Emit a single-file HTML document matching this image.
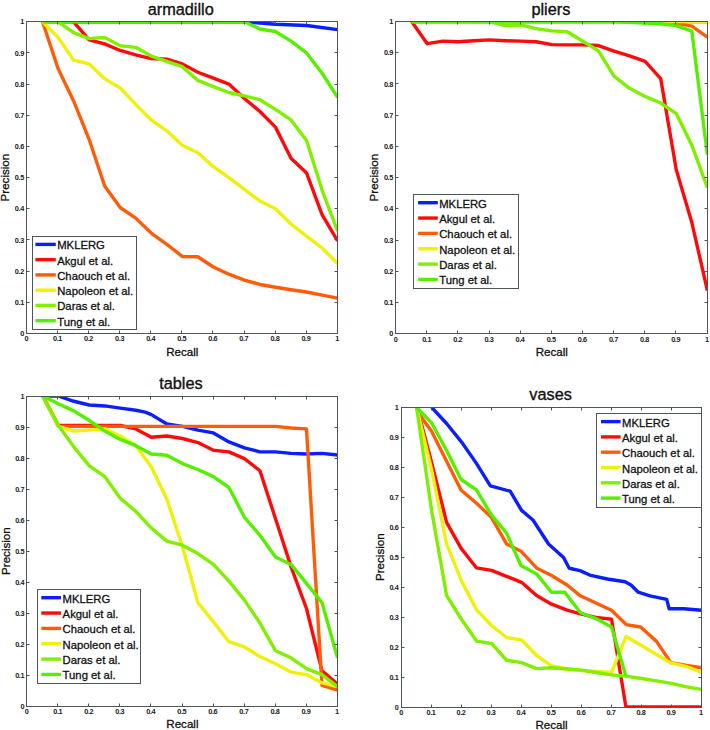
<!DOCTYPE html><html><head><meta charset="utf-8"><style>html,body{margin:0;padding:0;background:#fff;}svg{display:block;}text{font-family:"Liberation Sans", sans-serif;}</style></head><body>
<svg width="710" height="730" viewBox="0 0 710 730">
<rect width="710" height="730" fill="#fff"/>
<clipPath id="carmadillo"><rect x="27" y="21.8" width="310.6" height="311.6"/></clipPath><g clip-path="url(#carmadillo)">
<polyline points="42.53,21.8 244.42,21.8 275.48,24.29 306.54,25.54 337.6,29.59" fill="none" stroke="#0a1eff" stroke-width="3.4" stroke-linejoin="round" stroke-linecap="butt"/>
<polyline points="73.59,21.8 89.12,39.87 104.65,43.92 120.18,50.47 135.71,54.83 151.24,58.57 166.77,59.19 182.3,63.87 197.83,72.28 213.36,78.2 228.89,84.12 244.42,98.45 259.95,111.54 275.48,127.12 291.01,158.28 306.54,172.93 322.07,214.68 337.6,240.85" fill="none" stroke="#ff0a0a" stroke-width="3.4" stroke-linejoin="round" stroke-linecap="butt"/>
<polyline points="42.53,21.8 58.06,68.54 73.59,100.95 89.12,139.27 104.65,186.01 120.18,207.51 135.71,218.11 151.24,233.06 166.77,244.28 182.3,256.43 197.83,256.75 213.36,267.03 228.89,274.2 244.42,280.12 259.95,284.48 275.48,287.28 291.01,289.78 306.54,291.96 322.07,295.07 337.6,298.19" fill="none" stroke="#ff5c0a" stroke-width="3.4" stroke-linejoin="round" stroke-linecap="butt"/>
<polyline points="42.53,21.8 58.06,37.38 73.59,60.13 89.12,63.87 104.65,78.82 120.18,87.86 135.71,104.37 151.24,119.95 166.77,130.86 182.3,145.19 197.83,152.67 213.36,166.69 228.89,177.6 244.42,189.44 259.95,200.97 275.48,208.76 291.01,224.03 306.54,236.18 322.07,248.02 337.6,263.6" fill="none" stroke="#f0f00a" stroke-width="3.4" stroke-linejoin="round" stroke-linecap="butt"/>
<polyline points="42.53,21.8 58.06,21.8 73.59,32.71 89.12,38.63 104.65,37.38 120.18,45.79 135.71,47.35 151.24,56.08 166.77,61.37 182.3,66.67 197.83,80.38 213.36,86.61 228.89,92.53 244.42,95.96 259.95,99.7 275.48,109.36 291.01,119.95 306.54,140.52 322.07,190.06 337.6,231.2" fill="none" stroke="#80f000" stroke-width="3.4" stroke-linejoin="round" stroke-linecap="butt"/>
<polyline points="42.53,21.8 244.42,21.8 259.95,28.97 275.48,31.46 291.01,41.12 306.54,52.96 322.07,73.21 337.6,97.21" fill="none" stroke="#55f000" stroke-width="3.4" stroke-linejoin="round" stroke-linecap="butt"/>
</g>
<rect x="26.5" y="21.5" width="311" height="312" fill="none" stroke="#4c5656" stroke-width="1"/>
<path d="M57.5 333.5v-3M57.5 21.5v3M26.5 302.5h3M337.5 302.5h-3M88.5 333.5v-3M88.5 21.5v3M26.5 271.5h3M337.5 271.5h-3M119.5 333.5v-3M119.5 21.5v3M26.5 239.5h3M337.5 239.5h-3M150.5 333.5v-3M150.5 21.5v3M26.5 208.5h3M337.5 208.5h-3M181.5 333.5v-3M181.5 21.5v3M26.5 177.5h3M337.5 177.5h-3M212.5 333.5v-3M212.5 21.5v3M26.5 146.5h3M337.5 146.5h-3M244.5 333.5v-3M244.5 21.5v3M26.5 115.5h3M337.5 115.5h-3M275.5 333.5v-3M275.5 21.5v3M26.5 84.5h3M337.5 84.5h-3M306.5 333.5v-3M306.5 21.5v3M26.5 52.5h3M337.5 52.5h-3" stroke="#4c5656" stroke-width="1" fill="none"/>
<text x="26.4" y="341.3" font-size="7.3" font-weight="bold" fill="#222" text-anchor="middle" letter-spacing="-0.4">0</text>
<text x="23.8" y="336" font-size="7.3" font-weight="bold" fill="#222" text-anchor="end" letter-spacing="-0.4">0</text>
<text x="57.46" y="341.3" font-size="7.3" font-weight="bold" fill="#222" text-anchor="middle" letter-spacing="-0.4">0.1</text>
<text x="23.8" y="304.84" font-size="7.3" font-weight="bold" fill="#222" text-anchor="end" letter-spacing="-0.4">0.1</text>
<text x="88.52" y="341.3" font-size="7.3" font-weight="bold" fill="#222" text-anchor="middle" letter-spacing="-0.4">0.2</text>
<text x="23.8" y="273.68" font-size="7.3" font-weight="bold" fill="#222" text-anchor="end" letter-spacing="-0.4">0.2</text>
<text x="119.58" y="341.3" font-size="7.3" font-weight="bold" fill="#222" text-anchor="middle" letter-spacing="-0.4">0.3</text>
<text x="23.8" y="242.52" font-size="7.3" font-weight="bold" fill="#222" text-anchor="end" letter-spacing="-0.4">0.3</text>
<text x="150.64" y="341.3" font-size="7.3" font-weight="bold" fill="#222" text-anchor="middle" letter-spacing="-0.4">0.4</text>
<text x="23.8" y="211.36" font-size="7.3" font-weight="bold" fill="#222" text-anchor="end" letter-spacing="-0.4">0.4</text>
<text x="181.7" y="341.3" font-size="7.3" font-weight="bold" fill="#222" text-anchor="middle" letter-spacing="-0.4">0.5</text>
<text x="23.8" y="180.2" font-size="7.3" font-weight="bold" fill="#222" text-anchor="end" letter-spacing="-0.4">0.5</text>
<text x="212.76" y="341.3" font-size="7.3" font-weight="bold" fill="#222" text-anchor="middle" letter-spacing="-0.4">0.6</text>
<text x="23.8" y="149.04" font-size="7.3" font-weight="bold" fill="#222" text-anchor="end" letter-spacing="-0.4">0.6</text>
<text x="243.82" y="341.3" font-size="7.3" font-weight="bold" fill="#222" text-anchor="middle" letter-spacing="-0.4">0.7</text>
<text x="23.8" y="117.88" font-size="7.3" font-weight="bold" fill="#222" text-anchor="end" letter-spacing="-0.4">0.7</text>
<text x="274.88" y="341.3" font-size="7.3" font-weight="bold" fill="#222" text-anchor="middle" letter-spacing="-0.4">0.8</text>
<text x="23.8" y="86.72" font-size="7.3" font-weight="bold" fill="#222" text-anchor="end" letter-spacing="-0.4">0.8</text>
<text x="305.94" y="341.3" font-size="7.3" font-weight="bold" fill="#222" text-anchor="middle" letter-spacing="-0.4">0.9</text>
<text x="23.8" y="55.56" font-size="7.3" font-weight="bold" fill="#222" text-anchor="end" letter-spacing="-0.4">0.9</text>
<text x="337" y="341.3" font-size="7.3" font-weight="bold" fill="#222" text-anchor="middle" letter-spacing="-0.4">1</text>
<text x="23.8" y="24.4" font-size="7.3" font-weight="bold" fill="#222" text-anchor="end" letter-spacing="-0.4">1</text>
<text x="180.7" y="15.3" font-size="16.3" fill="#111" stroke="#111" stroke-width="0.35" text-anchor="middle">armadillo</text>
<text x="182.3" y="355.6" font-size="11.6" fill="#111" stroke="#111" stroke-width="0.3" text-anchor="middle">Recall</text>
<text transform="translate(9 177.6) rotate(-90)" font-size="11.6" fill="#111" stroke="#111" stroke-width="0.3" text-anchor="middle">Precision</text>
<rect x="32.5" y="236.5" width="104" height="93" fill="#fff" stroke="#4c5656" stroke-width="1"/>
<line x1="35.4" y1="244.4" x2="55.8" y2="244.4" stroke="#0a1eff" stroke-width="3.4"/>
<text x="57.2" y="249.4" font-size="11.3" fill="#111" stroke="#111" stroke-width="0.3">MKLERG</text>
<line x1="35.4" y1="259.65" x2="55.8" y2="259.65" stroke="#ff0a0a" stroke-width="3.4"/>
<text x="57.2" y="264.65" font-size="11.3" fill="#111" stroke="#111" stroke-width="0.3">Akgul et al.</text>
<line x1="35.4" y1="274.9" x2="55.8" y2="274.9" stroke="#ff5c0a" stroke-width="3.4"/>
<text x="57.2" y="279.9" font-size="11.3" fill="#111" stroke="#111" stroke-width="0.3">Chaouch et al.</text>
<line x1="35.4" y1="290.15" x2="55.8" y2="290.15" stroke="#f0f00a" stroke-width="3.4"/>
<text x="57.2" y="295.15" font-size="11.3" fill="#111" stroke="#111" stroke-width="0.3">Napoleon et al.</text>
<line x1="35.4" y1="305.4" x2="55.8" y2="305.4" stroke="#80f000" stroke-width="3.4"/>
<text x="57.2" y="310.4" font-size="11.3" fill="#111" stroke="#111" stroke-width="0.3">Daras et al.</text>
<line x1="35.4" y1="320.65" x2="55.8" y2="320.65" stroke="#55f000" stroke-width="3.4"/>
<text x="57.2" y="325.65" font-size="11.3" fill="#111" stroke="#111" stroke-width="0.3">Tung et al.</text>
<clipPath id="cpliers"><rect x="396.1" y="21.5" width="311.3" height="312.2"/></clipPath><g clip-path="url(#cpliers)">
<polyline points="411.67,21.5 707.4,21.5" fill="none" stroke="#0a1eff" stroke-width="3.4" stroke-linejoin="round" stroke-linecap="butt"/>
<polyline points="411.67,21.5 427.23,43.67 442.8,41.17 458.36,41.79 473.93,40.7 489.49,39.92 505.06,40.7 520.62,41.17 536.18,41.79 551.75,44.6 567.32,44.91 582.88,44.91 598.44,45.54 614.01,51.16 629.58,55.84 645.14,61.46 660.7,78.63 676.27,169.79 691.84,222.56 707.4,290.62" fill="none" stroke="#ff0a0a" stroke-width="3.4" stroke-linejoin="round" stroke-linecap="butt"/>
<polyline points="411.67,21.5 660.7,21.5 676.27,23.06 691.84,26.18 707.4,37.11" fill="none" stroke="#ff5c0a" stroke-width="3.4" stroke-linejoin="round" stroke-linecap="butt"/>
<polyline points="411.67,21.5 707.4,21.5" fill="none" stroke="#f0f00a" stroke-width="3.4" stroke-linejoin="round" stroke-linecap="butt"/>
<polyline points="411.67,21.5 489.49,21.5 505.06,25.56 520.62,24.93 536.18,28.68 551.75,30.87 567.32,31.8 582.88,41.17 598.44,50.85 614.01,76.13 629.58,88.31 645.14,96.43 660.7,102.98 676.27,113.6 691.84,145.13 707.4,187.59" fill="none" stroke="#80f000" stroke-width="3.4" stroke-linejoin="round" stroke-linecap="butt"/>
<polyline points="411.67,21.5 614.01,21.5 645.14,23.06 660.7,23.69 676.27,25.56 691.84,31.18 707.4,154.81" fill="none" stroke="#55f000" stroke-width="3.4" stroke-linejoin="round" stroke-linecap="butt"/>
</g>
<rect x="395.5" y="21.5" width="312" height="312" fill="none" stroke="#4c5656" stroke-width="1"/>
<path d="M426.5 333.5v-3M426.5 21.5v3M395.5 302.5h3M707.5 302.5h-3M457.5 333.5v-3M457.5 21.5v3M395.5 271.5h3M707.5 271.5h-3M489.5 333.5v-3M489.5 21.5v3M395.5 240.5h3M707.5 240.5h-3M520.5 333.5v-3M520.5 21.5v3M395.5 208.5h3M707.5 208.5h-3M551.5 333.5v-3M551.5 21.5v3M395.5 177.5h3M707.5 177.5h-3M582.5 333.5v-3M582.5 21.5v3M395.5 146.5h3M707.5 146.5h-3M613.5 333.5v-3M613.5 21.5v3M395.5 115.5h3M707.5 115.5h-3M644.5 333.5v-3M644.5 21.5v3M395.5 83.5h3M707.5 83.5h-3M675.5 333.5v-3M675.5 21.5v3M395.5 52.5h3M707.5 52.5h-3" stroke="#4c5656" stroke-width="1" fill="none"/>
<text x="395.5" y="341.6" font-size="7.3" font-weight="bold" fill="#222" text-anchor="middle" letter-spacing="-0.4">0</text>
<text x="392.9" y="336.3" font-size="7.3" font-weight="bold" fill="#222" text-anchor="end" letter-spacing="-0.4">0</text>
<text x="426.63" y="341.6" font-size="7.3" font-weight="bold" fill="#222" text-anchor="middle" letter-spacing="-0.4">0.1</text>
<text x="392.9" y="305.08" font-size="7.3" font-weight="bold" fill="#222" text-anchor="end" letter-spacing="-0.4">0.1</text>
<text x="457.76" y="341.6" font-size="7.3" font-weight="bold" fill="#222" text-anchor="middle" letter-spacing="-0.4">0.2</text>
<text x="392.9" y="273.86" font-size="7.3" font-weight="bold" fill="#222" text-anchor="end" letter-spacing="-0.4">0.2</text>
<text x="488.89" y="341.6" font-size="7.3" font-weight="bold" fill="#222" text-anchor="middle" letter-spacing="-0.4">0.3</text>
<text x="392.9" y="242.64" font-size="7.3" font-weight="bold" fill="#222" text-anchor="end" letter-spacing="-0.4">0.3</text>
<text x="520.02" y="341.6" font-size="7.3" font-weight="bold" fill="#222" text-anchor="middle" letter-spacing="-0.4">0.4</text>
<text x="392.9" y="211.42" font-size="7.3" font-weight="bold" fill="#222" text-anchor="end" letter-spacing="-0.4">0.4</text>
<text x="551.15" y="341.6" font-size="7.3" font-weight="bold" fill="#222" text-anchor="middle" letter-spacing="-0.4">0.5</text>
<text x="392.9" y="180.2" font-size="7.3" font-weight="bold" fill="#222" text-anchor="end" letter-spacing="-0.4">0.5</text>
<text x="582.28" y="341.6" font-size="7.3" font-weight="bold" fill="#222" text-anchor="middle" letter-spacing="-0.4">0.6</text>
<text x="392.9" y="148.98" font-size="7.3" font-weight="bold" fill="#222" text-anchor="end" letter-spacing="-0.4">0.6</text>
<text x="613.41" y="341.6" font-size="7.3" font-weight="bold" fill="#222" text-anchor="middle" letter-spacing="-0.4">0.7</text>
<text x="392.9" y="117.76" font-size="7.3" font-weight="bold" fill="#222" text-anchor="end" letter-spacing="-0.4">0.7</text>
<text x="644.54" y="341.6" font-size="7.3" font-weight="bold" fill="#222" text-anchor="middle" letter-spacing="-0.4">0.8</text>
<text x="392.9" y="86.54" font-size="7.3" font-weight="bold" fill="#222" text-anchor="end" letter-spacing="-0.4">0.8</text>
<text x="675.67" y="341.6" font-size="7.3" font-weight="bold" fill="#222" text-anchor="middle" letter-spacing="-0.4">0.9</text>
<text x="392.9" y="55.32" font-size="7.3" font-weight="bold" fill="#222" text-anchor="end" letter-spacing="-0.4">0.9</text>
<text x="706.8" y="341.6" font-size="7.3" font-weight="bold" fill="#222" text-anchor="middle" letter-spacing="-0.4">1</text>
<text x="392.9" y="24.1" font-size="7.3" font-weight="bold" fill="#222" text-anchor="end" letter-spacing="-0.4">1</text>
<text x="550.9" y="15" font-size="16.3" fill="#111" stroke="#111" stroke-width="0.35" text-anchor="middle">pliers</text>
<text x="551.75" y="355.9" font-size="11.6" fill="#111" stroke="#111" stroke-width="0.3" text-anchor="middle">Recall</text>
<text transform="translate(378.1 177.6) rotate(-90)" font-size="11.6" fill="#111" stroke="#111" stroke-width="0.3" text-anchor="middle">Precision</text>
<rect x="413.5" y="194.5" width="105" height="94" fill="#fff" stroke="#4c5656" stroke-width="1"/>
<line x1="418.1" y1="202.7" x2="437.8" y2="202.7" stroke="#0a1eff" stroke-width="3.4"/>
<text x="439.2" y="207.7" font-size="11.3" fill="#111" stroke="#111" stroke-width="0.3">MKLERG</text>
<line x1="418.1" y1="218.05" x2="437.8" y2="218.05" stroke="#ff0a0a" stroke-width="3.4"/>
<text x="439.2" y="223.05" font-size="11.3" fill="#111" stroke="#111" stroke-width="0.3">Akgul et al.</text>
<line x1="418.1" y1="233.4" x2="437.8" y2="233.4" stroke="#ff5c0a" stroke-width="3.4"/>
<text x="439.2" y="238.4" font-size="11.3" fill="#111" stroke="#111" stroke-width="0.3">Chaouch et al.</text>
<line x1="418.1" y1="248.75" x2="437.8" y2="248.75" stroke="#f0f00a" stroke-width="3.4"/>
<text x="439.2" y="253.75" font-size="11.3" fill="#111" stroke="#111" stroke-width="0.3">Napoleon et al.</text>
<line x1="418.1" y1="264.1" x2="437.8" y2="264.1" stroke="#80f000" stroke-width="3.4"/>
<text x="439.2" y="269.1" font-size="11.3" fill="#111" stroke="#111" stroke-width="0.3">Daras et al.</text>
<line x1="418.1" y1="279.45" x2="437.8" y2="279.45" stroke="#55f000" stroke-width="3.4"/>
<text x="439.2" y="284.45" font-size="11.3" fill="#111" stroke="#111" stroke-width="0.3">Tung et al.</text>
<clipPath id="ctables"><rect x="27.3" y="396" width="310.2" height="310.2"/></clipPath><g clip-path="url(#ctables)">
<polyline points="42.81,396 58.32,396 73.83,401.27 89.34,405 104.85,405.93 120.36,408.1 135.87,410.27 145.18,412.13 151.38,414.61 166.89,423.92 182.4,426.4 197.91,430.12 213.42,432.91 228.93,441.91 244.44,447.8 259.95,451.84 275.46,451.84 290.97,453.39 306.48,454.01 321.99,453.39 337.5,454.94" fill="none" stroke="#0a1eff" stroke-width="3.4" stroke-linejoin="round" stroke-linecap="butt"/>
<polyline points="42.81,396 58.32,425.47 120.36,425.47 135.87,428.88 151.38,437.26 166.89,436.02 182.4,438.5 197.91,442.53 213.42,450.29 228.93,451.84 244.44,458.66 259.95,470.76 275.46,518.53 290.97,566.61 306.48,608.49 321.99,670.84 337.5,684.18" fill="none" stroke="#ff0a0a" stroke-width="3.4" stroke-linejoin="round" stroke-linecap="butt"/>
<polyline points="42.81,396 58.32,426.4 275.46,426.4 290.97,427.95 306.48,428.88 321.99,685.42 337.5,690.07" fill="none" stroke="#ff5c0a" stroke-width="3.4" stroke-linejoin="round" stroke-linecap="butt"/>
<polyline points="42.81,396 58.32,426.4 73.83,431.05 89.34,430.12 104.85,428.88 120.36,436.02 135.87,445.63 151.38,467.04 166.89,499.3 182.4,546.45 197.91,602.59 213.42,621.83 228.93,641.68 244.44,646.95 259.95,656.57 275.46,663.7 290.97,672.08 306.48,674.56 321.99,682.94 337.5,686.66" fill="none" stroke="#f0f00a" stroke-width="3.4" stroke-linejoin="round" stroke-linecap="butt"/>
<polyline points="42.81,396 58.32,425.16 73.83,446.87 89.34,465.8 104.85,476.65 120.36,498.37 135.87,511.39 151.38,528.15 166.89,541.17 182.4,545.21 197.91,553.58 213.42,564.44 228.93,581.19 244.44,600.11 259.95,623.07 275.46,650.67 290.97,657.81 306.48,668.67 321.99,674.56 337.5,686.66" fill="none" stroke="#80f000" stroke-width="3.4" stroke-linejoin="round" stroke-linecap="butt"/>
<polyline points="42.81,396 58.32,403.75 73.83,410.89 89.34,420.51 104.85,431.05 120.36,439.43 135.87,445.63 151.38,454.01 166.89,455.25 182.4,463.62 197.91,469.52 213.42,476.65 228.93,487.51 244.44,517.29 259.95,535.28 275.46,556.99 290.97,564.44 306.48,583.36 321.99,602.59 337.5,657.81" fill="none" stroke="#55f000" stroke-width="3.4" stroke-linejoin="round" stroke-linecap="butt"/>
</g>
<rect x="26.5" y="396.5" width="311" height="310" fill="none" stroke="#4c5656" stroke-width="1"/>
<path d="M57.5 706.5v-3M57.5 396.5v3M26.5 675.5h3M337.5 675.5h-3M88.5 706.5v-3M88.5 396.5v3M26.5 644.5h3M337.5 644.5h-3M119.5 706.5v-3M119.5 396.5v3M26.5 613.5h3M337.5 613.5h-3M150.5 706.5v-3M150.5 396.5v3M26.5 582.5h3M337.5 582.5h-3M182.5 706.5v-3M182.5 396.5v3M26.5 551.5h3M337.5 551.5h-3M213.5 706.5v-3M213.5 396.5v3M26.5 520.5h3M337.5 520.5h-3M244.5 706.5v-3M244.5 396.5v3M26.5 489.5h3M337.5 489.5h-3M275.5 706.5v-3M275.5 396.5v3M26.5 458.5h3M337.5 458.5h-3M306.5 706.5v-3M306.5 396.5v3M26.5 427.5h3M337.5 427.5h-3" stroke="#4c5656" stroke-width="1" fill="none"/>
<text x="26.7" y="714.1" font-size="7.3" font-weight="bold" fill="#222" text-anchor="middle" letter-spacing="-0.4">0</text>
<text x="24.1" y="708.8" font-size="7.3" font-weight="bold" fill="#222" text-anchor="end" letter-spacing="-0.4">0</text>
<text x="57.72" y="714.1" font-size="7.3" font-weight="bold" fill="#222" text-anchor="middle" letter-spacing="-0.4">0.1</text>
<text x="24.1" y="677.78" font-size="7.3" font-weight="bold" fill="#222" text-anchor="end" letter-spacing="-0.4">0.1</text>
<text x="88.74" y="714.1" font-size="7.3" font-weight="bold" fill="#222" text-anchor="middle" letter-spacing="-0.4">0.2</text>
<text x="24.1" y="646.76" font-size="7.3" font-weight="bold" fill="#222" text-anchor="end" letter-spacing="-0.4">0.2</text>
<text x="119.76" y="714.1" font-size="7.3" font-weight="bold" fill="#222" text-anchor="middle" letter-spacing="-0.4">0.3</text>
<text x="24.1" y="615.74" font-size="7.3" font-weight="bold" fill="#222" text-anchor="end" letter-spacing="-0.4">0.3</text>
<text x="150.78" y="714.1" font-size="7.3" font-weight="bold" fill="#222" text-anchor="middle" letter-spacing="-0.4">0.4</text>
<text x="24.1" y="584.72" font-size="7.3" font-weight="bold" fill="#222" text-anchor="end" letter-spacing="-0.4">0.4</text>
<text x="181.8" y="714.1" font-size="7.3" font-weight="bold" fill="#222" text-anchor="middle" letter-spacing="-0.4">0.5</text>
<text x="24.1" y="553.7" font-size="7.3" font-weight="bold" fill="#222" text-anchor="end" letter-spacing="-0.4">0.5</text>
<text x="212.82" y="714.1" font-size="7.3" font-weight="bold" fill="#222" text-anchor="middle" letter-spacing="-0.4">0.6</text>
<text x="24.1" y="522.68" font-size="7.3" font-weight="bold" fill="#222" text-anchor="end" letter-spacing="-0.4">0.6</text>
<text x="243.84" y="714.1" font-size="7.3" font-weight="bold" fill="#222" text-anchor="middle" letter-spacing="-0.4">0.7</text>
<text x="24.1" y="491.66" font-size="7.3" font-weight="bold" fill="#222" text-anchor="end" letter-spacing="-0.4">0.7</text>
<text x="274.86" y="714.1" font-size="7.3" font-weight="bold" fill="#222" text-anchor="middle" letter-spacing="-0.4">0.8</text>
<text x="24.1" y="460.64" font-size="7.3" font-weight="bold" fill="#222" text-anchor="end" letter-spacing="-0.4">0.8</text>
<text x="305.88" y="714.1" font-size="7.3" font-weight="bold" fill="#222" text-anchor="middle" letter-spacing="-0.4">0.9</text>
<text x="24.1" y="429.62" font-size="7.3" font-weight="bold" fill="#222" text-anchor="end" letter-spacing="-0.4">0.9</text>
<text x="336.9" y="714.1" font-size="7.3" font-weight="bold" fill="#222" text-anchor="middle" letter-spacing="-0.4">1</text>
<text x="24.1" y="398.6" font-size="7.3" font-weight="bold" fill="#222" text-anchor="end" letter-spacing="-0.4">1</text>
<text x="180.9" y="388.9" font-size="16.3" fill="#111" stroke="#111" stroke-width="0.35" text-anchor="middle">tables</text>
<text x="182.4" y="728.4" font-size="11.6" fill="#111" stroke="#111" stroke-width="0.3" text-anchor="middle">Recall</text>
<text transform="translate(10.3 551.1) rotate(-90)" font-size="11.6" fill="#111" stroke="#111" stroke-width="0.3" text-anchor="middle">Precision</text>
<rect x="37.5" y="589.5" width="103" height="94" fill="#fff" stroke="#4c5656" stroke-width="1"/>
<line x1="41.3" y1="597.7" x2="61" y2="597.7" stroke="#0a1eff" stroke-width="3.4"/>
<text x="62.6" y="602.7" font-size="11.3" fill="#111" stroke="#111" stroke-width="0.3">MKLERG</text>
<line x1="41.3" y1="613.05" x2="61" y2="613.05" stroke="#ff0a0a" stroke-width="3.4"/>
<text x="62.6" y="618.05" font-size="11.3" fill="#111" stroke="#111" stroke-width="0.3">Akgul et al.</text>
<line x1="41.3" y1="628.4" x2="61" y2="628.4" stroke="#ff5c0a" stroke-width="3.4"/>
<text x="62.6" y="633.4" font-size="11.3" fill="#111" stroke="#111" stroke-width="0.3">Chaouch et al.</text>
<line x1="41.3" y1="643.75" x2="61" y2="643.75" stroke="#f0f00a" stroke-width="3.4"/>
<text x="62.6" y="648.75" font-size="11.3" fill="#111" stroke="#111" stroke-width="0.3">Napoleon et al.</text>
<line x1="41.3" y1="659.1" x2="61" y2="659.1" stroke="#80f000" stroke-width="3.4"/>
<text x="62.6" y="664.1" font-size="11.3" fill="#111" stroke="#111" stroke-width="0.3">Daras et al.</text>
<line x1="41.3" y1="674.45" x2="61" y2="674.45" stroke="#55f000" stroke-width="3.4"/>
<text x="62.6" y="679.45" font-size="11.3" fill="#111" stroke="#111" stroke-width="0.3">Tung et al.</text>
<clipPath id="cvases"><rect x="401.6" y="407.3" width="299.9" height="299.7"/></clipPath><g clip-path="url(#cvases)">
<polyline points="431.59,407.3 446.59,423.48 461.58,442.07 476.58,463.64 490.37,485.82 510.16,491.22 521.56,510.4 532.96,519.99 548.55,543.96 563.55,557.45 569.24,568.24 580.04,570.64 590.84,575.43 607.33,579.03 625.03,581.73 631.02,585.02 638.22,592.21 649.92,595.81 666.71,599.41 669.11,608.7 683.51,608.7 701.5,610.2" fill="none" stroke="#0a1eff" stroke-width="3.4" stroke-linejoin="round" stroke-linecap="butt"/>
<polyline points="416.6,407.3 419.59,416.89 431.59,462.44 446.59,522.38 460.98,548.16 476.58,567.94 491.57,570.34 506.56,576.33 521.56,582.32 536.56,595.51 551.55,604.2 567.14,610.2 580.34,613.79 595.94,617.39 611.53,619.19 625.93,707 701.5,707" fill="none" stroke="#ff0a0a" stroke-width="3.4" stroke-linejoin="round" stroke-linecap="butt"/>
<polyline points="417.79,407.3 419.59,414.79 431.59,431.28 446.59,461.25 460.98,490.02 476.58,503.2 491.57,517.59 506.56,543.96 520.96,551.16 536.56,567.94 551.55,575.43 567.14,585.02 580.34,595.81 595.94,603 611.53,610.2 626.23,624.58 640.62,626.98 656.51,641.37 670.91,662.64 686.5,665.34 701.5,667.74" fill="none" stroke="#ff5c0a" stroke-width="3.4" stroke-linejoin="round" stroke-linecap="butt"/>
<polyline points="416.6,407.3 431.59,469.64 446.59,543.96 461.58,581.13 476.58,609.9 491.57,625.48 506.56,637.47 521.56,639.87 536.56,655.45 551.55,665.94 567.14,668.94 581.54,670.44 595.94,671.34 611.53,672.53 625.93,636.57 640.62,644.96 656.51,654.55 670.91,662.94 686.5,666.54 701.5,672.53" fill="none" stroke="#f0f00a" stroke-width="3.4" stroke-linejoin="round" stroke-linecap="butt"/>
<polyline points="416.6,407.3 431.59,510.4 446.59,595.51 461.58,619.49 476.58,641.07 491.57,643.46 506.56,660.25 521.56,662.64 536.56,668.64 551.55,667.74 567.14,668.94 581.54,670.14 595.94,672.53 611.53,674.93 625.93,676.13 641.52,678.53 656.51,680.93 671.51,683.32 686.5,686.92 701.5,689.32" fill="none" stroke="#80f000" stroke-width="3.4" stroke-linejoin="round" stroke-linecap="butt"/>
<polyline points="416.6,407.3 431.59,422.88 446.59,450.46 460.98,479.23 476.58,490.02 491.57,515.19 506.56,533.17 520.96,565.54 536.56,573.93 551.55,592.21 564.75,592.21 580.34,612.59 595.94,618.59 611.53,626.98 625.93,676.13" fill="none" stroke="#55f000" stroke-width="3.4" stroke-linejoin="round" stroke-linecap="butt"/>
</g>
<rect x="401.5" y="407.5" width="300" height="300" fill="none" stroke="#4c5656" stroke-width="1"/>
<path d="M431.5 707.5v-3M431.5 407.5v3M401.5 677.5h3M701.5 677.5h-3M461.5 707.5v-3M461.5 407.5v3M401.5 647.5h3M701.5 647.5h-3M491.5 707.5v-3M491.5 407.5v3M401.5 617.5h3M701.5 617.5h-3M521.5 707.5v-3M521.5 407.5v3M401.5 587.5h3M701.5 587.5h-3M551.5 707.5v-3M551.5 407.5v3M401.5 557.5h3M701.5 557.5h-3M581.5 707.5v-3M581.5 407.5v3M401.5 527.5h3M701.5 527.5h-3M611.5 707.5v-3M611.5 407.5v3M401.5 497.5h3M701.5 497.5h-3M641.5 707.5v-3M641.5 407.5v3M401.5 467.5h3M701.5 467.5h-3M671.5 707.5v-3M671.5 407.5v3M401.5 437.5h3M701.5 437.5h-3" stroke="#4c5656" stroke-width="1" fill="none"/>
<text x="401" y="714.9" font-size="7.3" font-weight="bold" fill="#222" text-anchor="middle" letter-spacing="-0.4">0</text>
<text x="398.4" y="709.6" font-size="7.3" font-weight="bold" fill="#222" text-anchor="end" letter-spacing="-0.4">0</text>
<text x="430.99" y="714.9" font-size="7.3" font-weight="bold" fill="#222" text-anchor="middle" letter-spacing="-0.4">0.1</text>
<text x="398.4" y="679.63" font-size="7.3" font-weight="bold" fill="#222" text-anchor="end" letter-spacing="-0.4">0.1</text>
<text x="460.98" y="714.9" font-size="7.3" font-weight="bold" fill="#222" text-anchor="middle" letter-spacing="-0.4">0.2</text>
<text x="398.4" y="649.66" font-size="7.3" font-weight="bold" fill="#222" text-anchor="end" letter-spacing="-0.4">0.2</text>
<text x="490.97" y="714.9" font-size="7.3" font-weight="bold" fill="#222" text-anchor="middle" letter-spacing="-0.4">0.3</text>
<text x="398.4" y="619.69" font-size="7.3" font-weight="bold" fill="#222" text-anchor="end" letter-spacing="-0.4">0.3</text>
<text x="520.96" y="714.9" font-size="7.3" font-weight="bold" fill="#222" text-anchor="middle" letter-spacing="-0.4">0.4</text>
<text x="398.4" y="589.72" font-size="7.3" font-weight="bold" fill="#222" text-anchor="end" letter-spacing="-0.4">0.4</text>
<text x="550.95" y="714.9" font-size="7.3" font-weight="bold" fill="#222" text-anchor="middle" letter-spacing="-0.4">0.5</text>
<text x="398.4" y="559.75" font-size="7.3" font-weight="bold" fill="#222" text-anchor="end" letter-spacing="-0.4">0.5</text>
<text x="580.94" y="714.9" font-size="7.3" font-weight="bold" fill="#222" text-anchor="middle" letter-spacing="-0.4">0.6</text>
<text x="398.4" y="529.78" font-size="7.3" font-weight="bold" fill="#222" text-anchor="end" letter-spacing="-0.4">0.6</text>
<text x="610.93" y="714.9" font-size="7.3" font-weight="bold" fill="#222" text-anchor="middle" letter-spacing="-0.4">0.7</text>
<text x="398.4" y="499.81" font-size="7.3" font-weight="bold" fill="#222" text-anchor="end" letter-spacing="-0.4">0.7</text>
<text x="640.92" y="714.9" font-size="7.3" font-weight="bold" fill="#222" text-anchor="middle" letter-spacing="-0.4">0.8</text>
<text x="398.4" y="469.84" font-size="7.3" font-weight="bold" fill="#222" text-anchor="end" letter-spacing="-0.4">0.8</text>
<text x="670.91" y="714.9" font-size="7.3" font-weight="bold" fill="#222" text-anchor="middle" letter-spacing="-0.4">0.9</text>
<text x="398.4" y="439.87" font-size="7.3" font-weight="bold" fill="#222" text-anchor="end" letter-spacing="-0.4">0.9</text>
<text x="700.9" y="714.9" font-size="7.3" font-weight="bold" fill="#222" text-anchor="middle" letter-spacing="-0.4">1</text>
<text x="398.4" y="409.9" font-size="7.3" font-weight="bold" fill="#222" text-anchor="end" letter-spacing="-0.4">1</text>
<text x="550.6" y="400.1" font-size="16.3" fill="#111" stroke="#111" stroke-width="0.35" text-anchor="middle">vases</text>
<text x="551.55" y="729.2" font-size="11.6" fill="#111" stroke="#111" stroke-width="0.3" text-anchor="middle">Recall</text>
<text transform="translate(383.6 557.15) rotate(-90)" font-size="11.6" fill="#111" stroke="#111" stroke-width="0.3" text-anchor="middle">Precision</text>
<rect x="596.5" y="413.5" width="105" height="94" fill="#fff" stroke="#4c5656" stroke-width="1"/>
<line x1="601" y1="421.6" x2="620.6" y2="421.6" stroke="#0a1eff" stroke-width="3.4"/>
<text x="622" y="426.6" font-size="11.3" fill="#111" stroke="#111" stroke-width="0.3">MKLERG</text>
<line x1="601" y1="436.9" x2="620.6" y2="436.9" stroke="#ff0a0a" stroke-width="3.4"/>
<text x="622" y="441.9" font-size="11.3" fill="#111" stroke="#111" stroke-width="0.3">Akgul et al.</text>
<line x1="601" y1="452.2" x2="620.6" y2="452.2" stroke="#ff5c0a" stroke-width="3.4"/>
<text x="622" y="457.2" font-size="11.3" fill="#111" stroke="#111" stroke-width="0.3">Chaouch et al.</text>
<line x1="601" y1="467.5" x2="620.6" y2="467.5" stroke="#f0f00a" stroke-width="3.4"/>
<text x="622" y="472.5" font-size="11.3" fill="#111" stroke="#111" stroke-width="0.3">Napoleon et al.</text>
<line x1="601" y1="482.8" x2="620.6" y2="482.8" stroke="#80f000" stroke-width="3.4"/>
<text x="622" y="487.8" font-size="11.3" fill="#111" stroke="#111" stroke-width="0.3">Daras et al.</text>
<line x1="601" y1="498.1" x2="620.6" y2="498.1" stroke="#55f000" stroke-width="3.4"/>
<text x="622" y="503.1" font-size="11.3" fill="#111" stroke="#111" stroke-width="0.3">Tung et al.</text>
</svg></body></html>
